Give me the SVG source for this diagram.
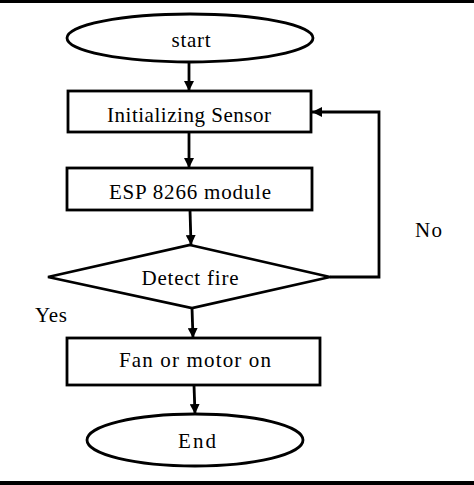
<svg xmlns="http://www.w3.org/2000/svg" width="474" height="485" viewBox="0 0 474 485">
<style>
.s{fill:#fff;stroke:#000;stroke-width:2.8}
.c{fill:none;stroke:#000;stroke-width:2.8}
text{font-family:"Liberation Serif","Times New Roman",serif;font-size:21px;fill:#000}
.m{text-anchor:middle}
</style>
<defs>
<marker id="a" markerWidth="10" markerHeight="10" viewBox="0 0 10 10" refX="10" refY="5" orient="auto" markerUnits="userSpaceOnUse">
<path d="M0,0 L10,5 L0,10 Z" fill="#000"/>
</marker>
</defs>
<rect x="0" y="0" width="474" height="485" fill="#fff"/>
<rect x="0" y="0" width="474" height="3" fill="#000"/>
<rect x="0" y="481" width="474" height="4" fill="#000"/>
<g id="connectors">
<line class="c" x1="189" y1="62" x2="189" y2="91" marker-end="url(#a)"/>
<line class="c" x1="189" y1="132" x2="189" y2="168" marker-end="url(#a)"/>
<line class="c" x1="190" y1="210" x2="191" y2="245" marker-end="url(#a)"/>
<polyline class="c" points="330,277 379,277 379,112 312,112" marker-end="url(#a)"/>
<line class="c" x1="192" y1="308" x2="193" y2="338" marker-end="url(#a)"/>
<line class="c" x1="194" y1="385" x2="195" y2="414" marker-end="url(#a)"/>
</g>
<g id="start">
<ellipse class="s" cx="190" cy="38" rx="123" ry="24"/>
<text class="m" x="191" y="47" textLength="39">start</text>
</g>
<g id="init">
<rect class="s" x="68" y="91" width="243" height="41"/>
<text class="m" x="189" y="122" textLength="164">Initializing Sensor</text>
</g>
<g id="esp">
<rect class="s" x="67" y="168" width="245" height="42"/>
<text class="m" x="190" y="199" textLength="162">ESP 8266 module</text>
</g>
<g id="detect">
<polygon class="s" points="190,245 330,277 192,308 48,277"/>
<text class="m" x="190" y="285" textLength="97">Detect fire</text>
</g>
<g id="fan">
<rect class="s" x="67" y="338" width="253" height="47"/>
<text class="m" x="195" y="367" textLength="152">Fan or motor on</text>
</g>
<g id="end">
<ellipse class="s" cx="195" cy="440" rx="108" ry="26"/>
<text class="m" x="197" y="448" textLength="38">End</text>
</g>
<text x="415" y="237" textLength="27">No</text>
<text x="35" y="322" textLength="32">Yes</text>
</svg>
